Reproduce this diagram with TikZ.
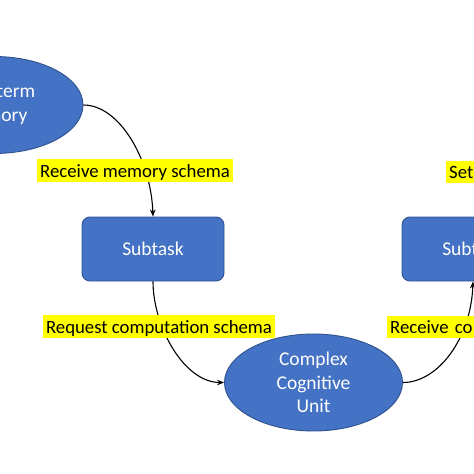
\documentclass[tikz,border=0pt]{standalone}
\usepackage{fontspec}
\setmainfont{Carlito}
\usetikzlibrary{shapes.geometric,arrows.meta}
\definecolor{nodeblue}{HTML}{4472C4}
\definecolor{nodeedge}{HTML}{2F528F}
\definecolor{hl}{HTML}{FFFF00}
\tikzset{
  unitnode/.style={ellipse, fill=nodeblue, draw=nodeedge, line width=0.9pt,
    minimum width=178pt, minimum height=97pt, inner sep=0pt, text=white,
    align=center, font=\fontsize{19.5}{23.5}\selectfont},
  taskbox/.style={rectangle, rounded corners=8pt, fill=nodeblue, draw=nodeedge,
    line width=0.9pt, minimum width=142pt, minimum height=64pt, inner sep=0pt,
    text=white, font=\fontsize{19.5}{23.5}\selectfont},
  hllabel/.style={fill=hl, inner xsep=3pt, inner ysep=0pt, text height=18pt,
    text depth=4.2pt, font=\fontsize{18.75}{22}\selectfont},
  conn/.style={line width=1.1pt, -{Stealth[length=7pt,width=5.5pt]}},
}
\begin{document}
\begin{tikzpicture}[x=1pt,y=-1pt]
\useasboundingbox (0,0) rectangle (474,474);
\node[unitnode] (ltm) at (-6,105) {Long-term\\memory};
\node[taskbox] (st1) at (153,249) {Subtask};
\node[taskbox] (st2) at (473,249) {Subtask};
\node[unitnode] (ccu) at (313.5,382.5) {Complex\\Cognitive\\Unit};
\draw[conn] (ltm.east) .. controls +(36,0) and +(-2,-57) .. (st1.north);
\draw[conn] (st1.south) .. controls +(0,45) and +(-40,0) .. (ccu.west);
\draw[conn] (ccu.east) .. controls +(35,0) and +(-2,57) .. (st2.south);
\node[hllabel] (l1) at (135,170.5) {Receive memory schema};
\node[hllabel] (l2) at (159,326.5) {Request computation schema};
\node[hllabel, anchor=west, text width=100pt, align=left] (l3) at (387,327) {Receive co};
\node[hllabel, anchor=west, text width=60pt, align=left] (l4) at (446,172) {Set};
\end{tikzpicture}
\end{document}
